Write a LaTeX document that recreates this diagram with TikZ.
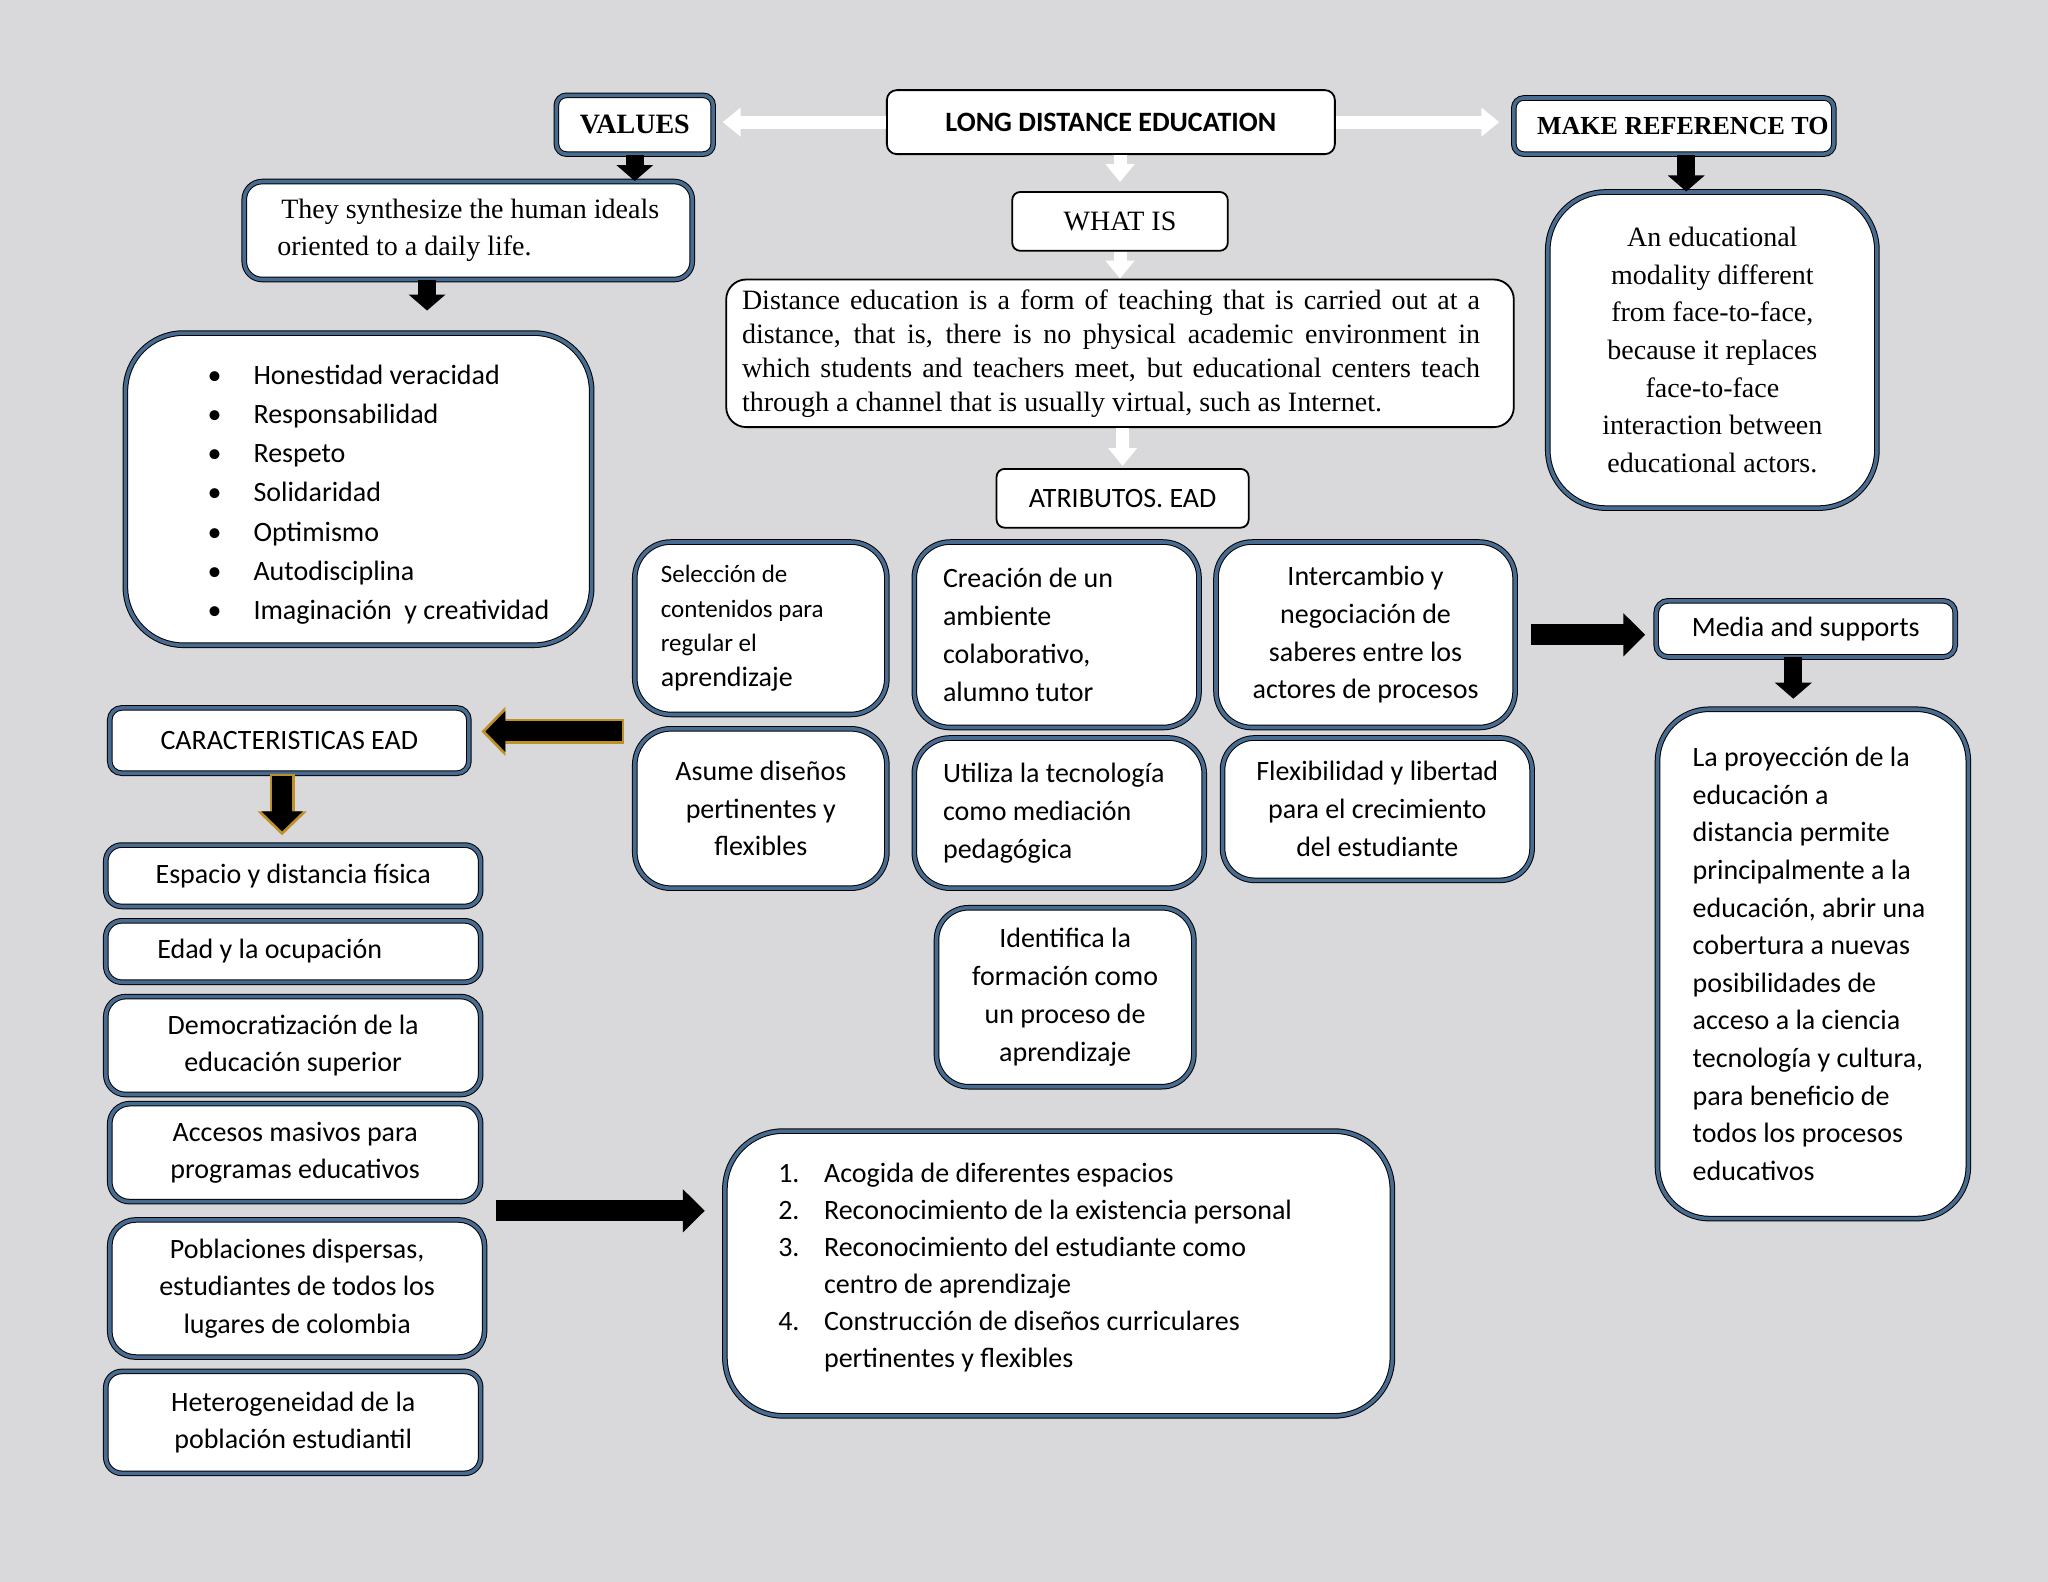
\documentclass[tikz,border=0pt]{standalone}
\usepackage{fontspec}
\setmainfont{Liberation Serif}
\newfontfamily\cbr{Carlito}
\usetikzlibrary{arrows.meta}
\definecolor{bgc}{RGB}{217,217,219}
\definecolor{bordb}{RGB}{72,108,145}
\definecolor{goldc}{RGB}{190,145,40}
\newcommand\cmbox[7]{\node[#6, minimum width={(#4-#2)*0.65306pt}, minimum height={(#5-#3)*0.65306pt}] (#1) at ({(#2+#4)/2},{(#3+#5)/2}) {#7};}
\begin{document}
\begin{tikzpicture}[x=0.65306pt,y=-0.65306pt,
 plain/.style={draw=black, line width=0.9pt, fill=white, inner sep=0pt},
 bbox/.style={draw=black, line width=0.5pt, double=bordb, double distance=1.8pt, fill=white, inner sep=0pt},
 cal/.style={font=\cbr\fontsize{14}{18.8}\selectfont},
 tms/.style={font=\fontsize{14}{18.3}\selectfont},
 warr/.style={draw=white, line width=6.5pt, -{Triangle[width=14pt,length=9pt]}},
 barr/.style={draw=black, line width=9pt, -{Triangle[width=18pt,length=8pt]}},
 bigarr/.style={draw=black, line width=10.5pt, -{Triangle[width=21pt,length=11pt]}},
 goldout/.style={draw=goldc, line width=12.5pt, -{Triangle[width=24pt,length=12pt]}},
 goldin/.style={draw=black, line width=10pt, -{Triangle[width=20pt,length=10pt]}},
]
\fill[bgc] (0,0) rectangle (1568,1211);
\useasboundingbox (0,0) rectangle (1568,1211);

% top row
\cmbox{lde}{679}{69}{1022}{118}{plain, rounded corners=5pt, font=\cbr\bfseries\fontsize{14}{17}\selectfont}{LONG DISTANCE EDUCATION}
\cmbox{values}{426}{73}{546}{118}{bbox, rounded corners=5pt, font=\bfseries\fontsize{14}{17}\selectfont}{VALUES}
\cmbox{mref}{1159}{75}{1404}{118}{bbox, rounded corners=5pt, font=\bfseries\fontsize{13}{16}\selectfont}{\hspace{9pt}MAKE REFERENCE TO}
\cmbox{they}{187}{139}{530}{214}{bbox, rounded corners=9pt, tms, align=left}{\hspace{2pt}They synthesize the human ideals\\oriented to a daily life.}
\cmbox{whatis}{775}{147}{940}{192}{plain, rounded corners=4pt, tms}{WHAT IS}
\cmbox{dist}{556}{214}{1159}{327}{plain, rounded corners=10pt, text width=378pt, align=flush left, font=\fontsize{14}{17}\selectfont}{\makebox[369pt][s]{Distance education is a form of teaching that is carried out at a}\\\makebox[369pt][s]{distance, that is, there is no physical academic environment in}\\\makebox[369pt][s]{which students and teachers meet, but educational centers teach}\\through a channel that is usually virtual, such as Internet.}
\cmbox{an}{1185}{147}{1437}{389}{bbox, rounded corners=29pt, align=center, font=\fontsize{14}{18.8}\selectfont}{An educational\\modality different\\from face-to-face,\\because it replaces\\face-to-face\\interaction between\\educational actors.}
\cmbox{vlist}{96}{255}{453}{494}{bbox, rounded corners=29pt, font=\cbr\fontsize{14}{19.6}\selectfont}{\hspace{20pt}\begin{tabular}{@{}l@{}}\noalign{\vskip5pt}
\makebox[22.9pt][l]{\textbullet}Honestidad veracidad\\
\makebox[22.9pt][l]{\textbullet}Responsabilidad\\
\makebox[22.9pt][l]{\textbullet}Respeto\\
\makebox[22.9pt][l]{\textbullet}Solidaridad\\
\makebox[22.9pt][l]{\textbullet}Optimismo\\
\makebox[22.9pt][l]{\textbullet}Autodisciplina\\
\makebox[22.9pt][l]{\textbullet}Imaginación\ \ y creatividad
\end{tabular}}
\cmbox{atrib}{763}{359}{956}{404}{plain, rounded corners=4pt, cal}{ATRIBUTOS. EAD}

% attribute boxes
\cmbox{sel}{486}{415}{679}{547}{bbox, rounded corners=18pt, text width=100pt, align=flush left, font=\cbr\fontsize{12.5}{17.2}\selectfont}{Selección de\\contenidos para\\regular el\\{\fontsize{14}{17.2}\selectfont aprendizaje}}
\cmbox{crea}{700}{415}{918}{557}{bbox, rounded corners=18pt, text width=113.6pt, align=flush left, font=\cbr\fontsize{14}{18.9}\selectfont}{Creación de un\\ambiente\\colaborativo,\\alumno tutor}
\cmbox{inter}{931}{415}{1160}{557}{bbox, rounded corners=18pt, align=center, font=\cbr\fontsize{14}{18.9}\selectfont}{Intercambio y\\negociación de\\saberes entre los\\actores de procesos}
\cmbox{asume}{486}{558}{679}{680}{bbox, rounded corners=18pt, align=center, font=\cbr\fontsize{14}{18.9}\selectfont}{Asume diseños\\pertinentes y\\flexibles}
\cmbox{util}{700}{565}{922}{680}{bbox, rounded corners=18pt, text width=116.2pt, align=flush left, font=\cbr\fontsize{14}{18.9}\selectfont}{Utiliza la tecnología\\como mediación\\pedagógica}
\cmbox{flex}{936}{565}{1173}{674}{bbox, rounded corners=16pt, align=center, font=\cbr\fontsize{14}{18.9}\selectfont}{Flexibilidad y libertad\\para el crecimiento\\del estudiante}
\cmbox{ident}{717}{695}{914}{832}{bbox, rounded corners=16pt, align=center, font=\cbr\fontsize{14}{18.9}\selectfont}{Identifica la\\formación como\\un proceso de\\aprendizaje}

% right column
\cmbox{media}{1268}{460}{1497}{503}{bbox, rounded corners=6pt, cal}{Media and supports}
\cmbox{proy}{1269}{543}{1507}{933}{bbox, rounded corners=26pt, text width=120.2pt, align=flush left, font=\cbr\fontsize{14}{18.8}\selectfont}{La proyección de la\\educación a\\distancia permite\\principalmente a la\\educación, abrir una\\cobertura a nuevas\\posibilidades de\\acceso a la ciencia\\tecnología y cultura,\\para beneficio de\\todos los procesos\\educativos}

% left column
\cmbox{carac}{84}{542}{359}{592}{bbox, rounded corners=6pt, cal}{CARACTERISTICAS EAD}
\cmbox{esp}{81}{647}{368}{694}{bbox, rounded corners=8pt, align=center, font=\cbr\fontsize{14}{18.6}\selectfont}{Espacio y distancia física}
\cmbox{edad}{81}{705}{368}{752}{bbox, rounded corners=8pt, align=center, font=\cbr\fontsize{14}{18.6}\selectfont}{Edad y la ocupación\hspace{23.5pt}}
\cmbox{demo}{81}{763}{368}{838}{bbox, rounded corners=10pt, align=center, font=\cbr\fontsize{14}{18.6}\selectfont}{Democratización de la\\educación superior}
\cmbox{acc}{84}{845}{368}{920}{bbox, rounded corners=10pt, align=center, font=\cbr\fontsize{14}{18.6}\selectfont}{Accesos masivos para\\programas educativos}
\cmbox{pobl}{84}{934}{371}{1039}{bbox, rounded corners=13pt, align=center, font=\cbr\fontsize{14}{18.9}\selectfont}{Poblaciones dispersas,\\estudiantes de todos los\\lugares de colombia}
\cmbox{hetero}{81}{1050}{368}{1128}{bbox, rounded corners=8pt, align=center, font=\cbr\fontsize{14}{18.6}\selectfont}{Heterogeneidad de la\\población estudiantil}

% numbered list
\cmbox{nlist}{555}{866}{1066}{1084}{bbox, rounded corners=29pt, font=\cbr\fontsize{14}{18.5}\selectfont}{\begin{tabular}{@{}l@{}}
\makebox[22.9pt][l]{1.}Acogida de diferentes espacios\\
\makebox[22.9pt][l]{2.}Reconocimiento de la existencia personal\\
\makebox[22.9pt][l]{3.}Reconocimiento del estudiante como\\
\makebox[22.9pt][l]{}centro de aprendizaje\\
\makebox[22.9pt][l]{4.}Construcción de diseños curriculares\\
\makebox[22.9pt][l]{}pertinentes y flexibles\\[6pt]
\end{tabular}\rule{23.5pt}{0pt}}

% white arrows
\draw[warr, shorten >=4.5pt] (lde.west) -- (lde.west -| values.east);
\draw[warr, shorten >=7pt] (lde.east) -- (lde.east -| mref.west);
\coordinate (w1) at (whatis.north |- lde.south);
\draw[warr, shorten >=4.5pt] (w1) -- (whatis.north);
\draw[warr] (whatis.south) -- (whatis.south |- dist.north);
\coordinate (w3) at (atrib.north |- dist.south);
\draw[warr, shorten >=1pt] (w3) -- (atrib.north);

% black arrows
\draw[barr] (values.south) -- (values.south |- they.north);
\coordinate (t1) at ([xshift=-20.6pt]they.south);
\draw[barr, shorten >=11pt] (t1) -- (t1 |- vlist.north);
\coordinate (m1) at ([xshift=6.2pt]mref.south);
\draw[barr] (m1) -- (m1 |- an.north);
\coordinate (md) at ([xshift=-6.2pt]media.south);
\draw[barr, shorten >=5pt] (md) -- (md |- proy.north);
\draw[bigarr, shorten <=7.8pt, shorten >=5.2pt] (inter.east) -- (inter.east -| media.west);
\coordinate (ba) at (380,927);
\draw[bigarr, shorten >=9.8pt] (ba) -- (ba -| nlist.west);

% gold-outlined arrows
\coordinate (gs) at (478,560);
\draw[goldout, shorten >=6pt] (gs) -- (gs -| carac.east);
\draw[goldin, shorten <=1.2pt, shorten >=8pt] (gs) -- (gs -| carac.east);
\coordinate (g2) at ([xshift=-3.6pt]carac.south);
\draw[goldout, shorten >=4.6pt] (g2) -- (g2 |- esp.north);
\draw[goldin, shorten <=1.2pt, shorten >=6.6pt] (g2) -- (g2 |- esp.north);
\end{tikzpicture}
\end{document}
